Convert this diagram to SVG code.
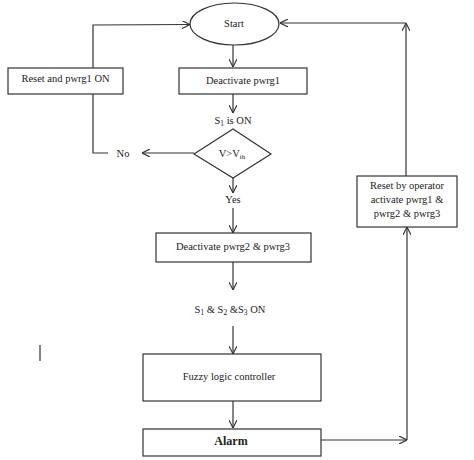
<svg xmlns="http://www.w3.org/2000/svg" width="474" height="460" viewBox="0 0 474 460">
<style>
.box{fill:#fff;stroke:#333;stroke-width:1.2}
.ln{fill:none;stroke:#333;stroke-width:1.2}
text{font-family:"Liberation Serif","Times New Roman",serif;font-size:10.5px;fill:#222;text-anchor:middle}
.b{font-weight:bold;font-size:12px}
</style>
<defs>
<marker id="ah" viewBox="0 0 10 10" refX="10" refY="5" markerWidth="8" markerHeight="8" markerUnits="userSpaceOnUse" orient="auto">
<path d="M0,0 L10,5 L0,10" fill="none" stroke="#333" stroke-width="1.4"/>
</marker>
</defs>
<rect width="474" height="460" fill="#fff"/>
<g id="connectors">
<line class="ln" x1="233" y1="45" x2="233" y2="67" marker-end="url(#ah)"/>
<line class="ln" x1="233" y1="94" x2="233" y2="113" marker-end="url(#ah)"/>
<polyline class="ln" points="93,68 93,25 190,24.5" marker-end="url(#ah)"/>
<line class="ln" x1="194" y1="153" x2="142" y2="153" marker-end="url(#ah)"/>
<polyline class="ln" points="108,153 93,153 93,94"/>
<line class="ln" x1="233" y1="178" x2="233" y2="193" marker-end="url(#ah)"/>
<line class="ln" x1="233" y1="208" x2="233" y2="233" marker-end="url(#ah)"/>
<line class="ln" x1="233" y1="262" x2="233" y2="290" marker-end="url(#ah)"/>
<line class="ln" x1="233" y1="326" x2="233" y2="354" marker-end="url(#ah)"/>
<line class="ln" x1="233" y1="401" x2="233" y2="428" marker-end="url(#ah)"/>
<line class="ln" x1="321" y1="440" x2="407" y2="440" marker-end="url(#ah)"/>
<line class="ln" x1="407" y1="440" x2="407" y2="227" marker-end="url(#ah)"/>
<line class="ln" x1="406" y1="176" x2="406" y2="23" marker-end="url(#ah)"/>
<line class="ln" x1="406" y1="23" x2="280" y2="23" marker-end="url(#ah)"/>
<line class="ln" x1="40" y1="345" x2="40" y2="361"/>
</g>
<g id="start">
<ellipse class="box" cx="234.5" cy="24" rx="44.5" ry="21"/>
<text x="234" y="27">Start</text>
</g>
<g id="deactivate1">
<rect class="box" x="179" y="68" width="128" height="26"/>
<text x="243" y="84">Deactivate pwrg1</text>
</g>
<g id="reset1">
<rect class="box" x="8" y="68" width="115" height="26"/>
<text x="65.5" y="82">Reset and pwrg1 ON</text>
</g>
<g id="s1on">
<text x="233" y="124">S<tspan font-size="7.5" dy="2">1</tspan><tspan dy="-2"> is ON</tspan></text>
</g>
<g id="decision">
<polygon class="box" points="194,154 233,129 271,154 233,178"/>
<text x="232" y="157">V&gt;V<tspan font-size="7" dy="2">th</tspan></text>
</g>
<g id="no"><text x="123" y="157">No</text></g>
<g id="yes"><text x="233" y="203">Yes</text></g>
<g id="deactivate23">
<rect class="box" x="156" y="233" width="155" height="29"/>
<text x="233" y="250">Deactivate pwrg2 &amp; pwrg3</text>
</g>
<g id="s123on">
<text x="230" y="313">S<tspan font-size="7.5" dy="2">1</tspan><tspan dy="-2"> &amp; S</tspan><tspan font-size="7.5" dy="2">2</tspan><tspan dy="-2"> &amp;S</tspan><tspan font-size="7.5" dy="2">3</tspan><tspan dy="-2"> ON</tspan></text>
</g>
<g id="fuzzy">
<rect class="box" x="143" y="354" width="178" height="47"/>
<text x="229" y="380">Fuzzy logic controller</text>
</g>
<g id="alarm">
<rect class="box" x="143" y="429" width="178" height="27"/>
<text class="b" x="231" y="445">Alarm</text>
</g>
<g id="resetop">
<rect class="box" x="357" y="176" width="100" height="51"/>
<text x="407" y="189">Reset by operator</text>
<text x="407" y="203">activate pwrg1 &amp;</text>
<text x="407" y="217">pwrg2 &amp; pwrg3</text>
</g>
</svg>
